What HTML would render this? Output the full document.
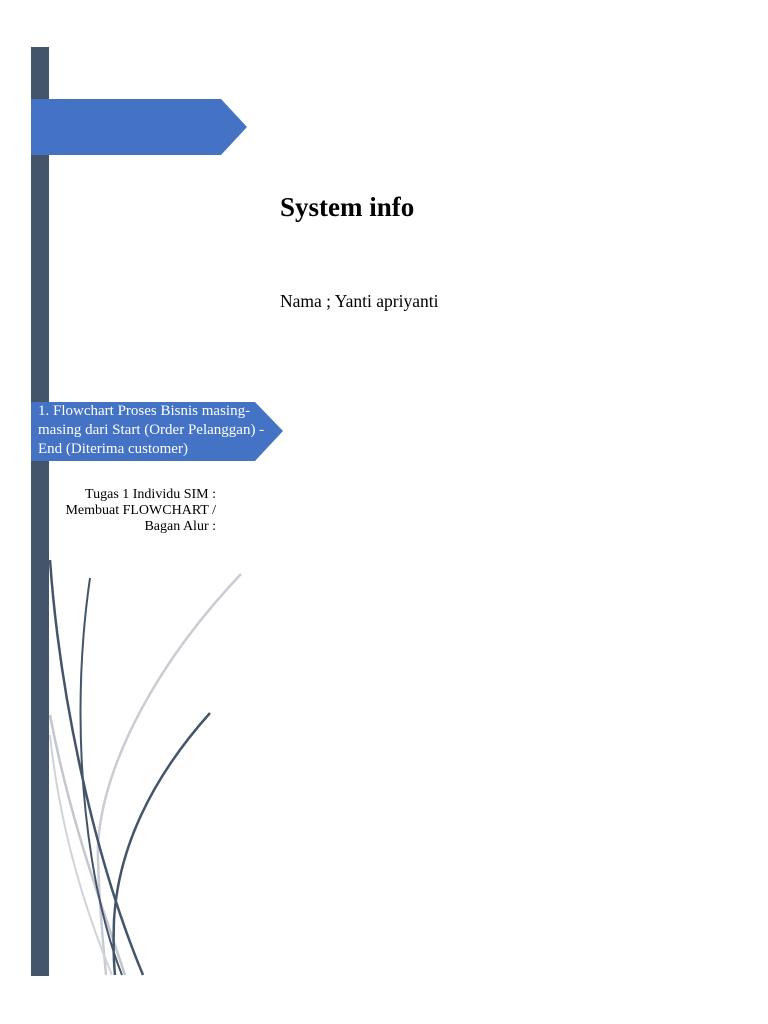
<!DOCTYPE html>
<html><head><meta charset="utf-8"><style>
body{margin:0;width:768px;height:1024px;background:#fff;position:relative;overflow:hidden;font-family:"Liberation Serif",serif}
.t{position:absolute;color:#000;white-space:nowrap}
</style></head><body>
<svg width="768" height="1024" style="position:absolute;left:0;top:0">
<rect x="31" y="47" width="18" height="929" fill="#44546a"/>
<polygon points="31,99 221,99 247,127 221,155 31,155" fill="#4472c4"/>
<polygon points="31,402 255,402 283,431 255,461 31,461" fill="#4472c4"/>
<g fill="none">
<path d="M241,574 C150,670 95,780 98,860 C100,920 104,950 106,975" stroke="#c9ccd2" stroke-width="2.5"/>
<path d="M50,715 C70,820 100,900 125,975" stroke="#c3c7cd" stroke-width="2.5"/>
<path d="M50,735 C60,830 85,910 112,975" stroke="#d0d3d8" stroke-width="2"/>
<path d="M50,560 C60,700 95,860 143,975" stroke="#44546a" stroke-width="2.5"/>
<path d="M90,578 C78,660 76,760 92,860 C100,910 112,950 122,975" stroke="#44546a" stroke-width="2"/>
<path d="M210,713 C150,780 118,850 114,920 C113,950 114,965 115,975" stroke="#44546a" stroke-width="2.5"/>
</g>
</svg>
<div class="t" style="left:280px;top:192px;font-size:27px;font-weight:bold">System info</div>
<div class="t" style="left:280px;top:291px;font-size:17.5px">Nama ; Yanti apriyanti</div>
<div class="t" style="left:38px;top:402px;font-size:15px;line-height:19px;color:#fff">1. Flowchart Proses Bisnis masing-<br>masing dari Start (Order Pelanggan) -<br>End (Diterima customer)</div>
<div class="t" style="left:30px;top:487px;width:186px;text-align:right;font-size:14px;line-height:16px">Tugas 1 Individu SIM :<br>Membuat FLOWCHART /<br>Bagan Alur :</div>
</body></html>
